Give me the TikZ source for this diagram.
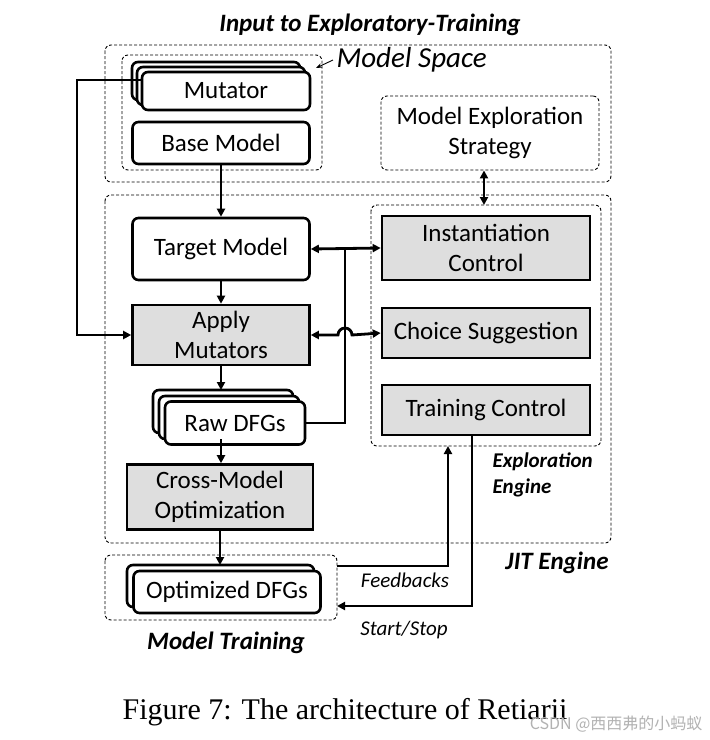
\documentclass[tikz,border=0pt]{standalone}
\usepackage{fontspec}
\setmainfont{Carlito}
\newfontfamily\capfont{Liberation Serif}
\newfontfamily\cjk{Noto Sans CJK SC}
\usetikzlibrary{arrows.meta}
\begin{document}
\begin{tikzpicture}[x=1pt,y=-1pt,
  every node/.style={font=\fontsize{25}{30}\selectfont},
  box/.style={draw,line width=2.6pt,rounded corners=6pt,fill=white,align=center,inner sep=0pt},
  gbox/.style={draw,line width=2.6pt,fill=black!13,align=center,inner sep=0pt},
  dbox/.style={draw,densely dashed,line width=0.9pt,rounded corners=6pt},
  conn/.style={line width=2.8pt,-{Triangle[length=8pt,width=8pt]}},
  dconn/.style={line width=2.8pt,{Triangle[length=8pt,width=8pt]}-{Triangle[length=8pt,width=8pt]}},
  lab/.style={font=\fontsize{25}{30}\selectfont\bfseries\itshape},
  ilab/.style={font=\fontsize{21}{25}\selectfont\itshape}]
\useasboundingbox (0,0) rectangle (710,740);
\fill[white] (0,0) rectangle (710,740);
% containers
\node[lab] (tin) at (370,25) {Input to Exploratory-Training};
\draw[dbox] (105,45) rectangle (611,182);
\draw[dbox] (122,55) rectangle (322,170);
\node[font=\fontsize{29}{32}\selectfont\itshape,anchor=west] (ms) at (333,60) {Model Space};
\coordinate (msc) at (316,68);
\draw[line width=0.9pt,-{Stealth[length=6pt]}] (ms.west) -- (msc);
\draw[dbox] (105,195) rectangle (611,543);
\draw[dbox] (371,205) rectangle (601,446);
\draw[dbox] (105,555) rectangle (337,620);
% nodes
\draw[box] (132,62) rectangle (300,100);
\draw[box] (137,67) rectangle (305,105);
\node[box,minimum width=168pt,minimum height=38pt] (mut) at (226,91) {Mutator};
\node[box,minimum width=177pt,minimum height=42pt] (base) at (221,143) {Base Model};
\node[dbox,minimum width=218pt,minimum height=74pt,align=center,inner sep=0pt] (mes) at (490,133) {Model Exploration\\Strategy};
\node[box,minimum width=177pt,minimum height=62pt] (tm) at (221,249) {Target Model};
\node[gbox,minimum width=208pt,minimum height=64pt] (ic) at (486,248) {Instantiation\\Control};
\node[gbox,minimum width=177pt,minimum height=60pt] (am) at (221,335) {Apply\\Mutators};
\node[gbox,minimum width=208pt,minimum height=50pt] (cs) at (486,333) {Choice Suggestion};
\node[gbox,minimum width=208pt,minimum height=50pt] (tc) at (486,410) {Training Control};
\draw[box] (153,390) rectangle (293,433);
\draw[box] (159,396) rectangle (299,439);
\node[box,minimum width=140pt,minimum height=43pt] (raw) at (235,423) {Raw DFGs};
\node[gbox,minimum width=186pt,minimum height=65pt] (cmo) at (220,497) {Cross-Model\\Optimization};
\draw[box] (127,565) rectangle (314,607);
\node[box,minimum width=187pt,minimum height=42pt] (opt) at (227,592) {Optimized DFGs};
% labels
\node[font=\fontsize{21}{26}\selectfont\bfseries\itshape,align=left,anchor=north west] (ee) at (489,449) {Exploration\\Engine};
\node[lab] (jit) at (557,563) {JIT Engine};
\node[lab] (mt) at (226,643) {Model Training};
\node[ilab] (fb) at (405,580) {Feedbacks};
\node[ilab] (ss) at (404,630) {Start/Stop};
\node[font=\fontsize{30}{34}\selectfont\capfont] (cap) at (345,712) {Figure 7: The architecture of Retiarii};
\node[font=\fontsize{16}{19}\selectfont\cjk,text=black!30,anchor=east] (wm) at (706,724) {CSDN @西西弗的小蚂蚁};
% connectors
\coordinate (ebtop) at (484,205);
\coordinate (ebbot) at (448,446);
\coordinate (mtr) at (337,566);
\coordinate (mtr2) at (337,606);
\draw[conn] (mut.west |- 0,80) -- (77,80) -- (77,335) -- (am.west);
\draw[conn] (base.south) -- (tm.north);
\draw[dconn] (mes.south -| ebtop) -- (ebtop);
\draw[dconn] (tm.east) -- (ic.west);
\draw[line width=2.8pt] (raw.east) -- (345,423) -- (345,249);
\draw[dconn] (am.east) -- (338,335) arc (180:360:7) -- (cs.west);
\draw[conn] (tm.south) -- (am.north);
\draw[conn] (am.south) -- (221,390);
\draw[conn] (221,439) -- (cmo.north -| 221,0);
\draw[conn] (cmo.south) -- (220,565);
\draw[conn] (mtr) -- (448,566) -- (ebbot);
\draw[conn] (tc.south -| 472,0) -- (472,606) -- (mtr2);
\end{tikzpicture}
\end{document}
